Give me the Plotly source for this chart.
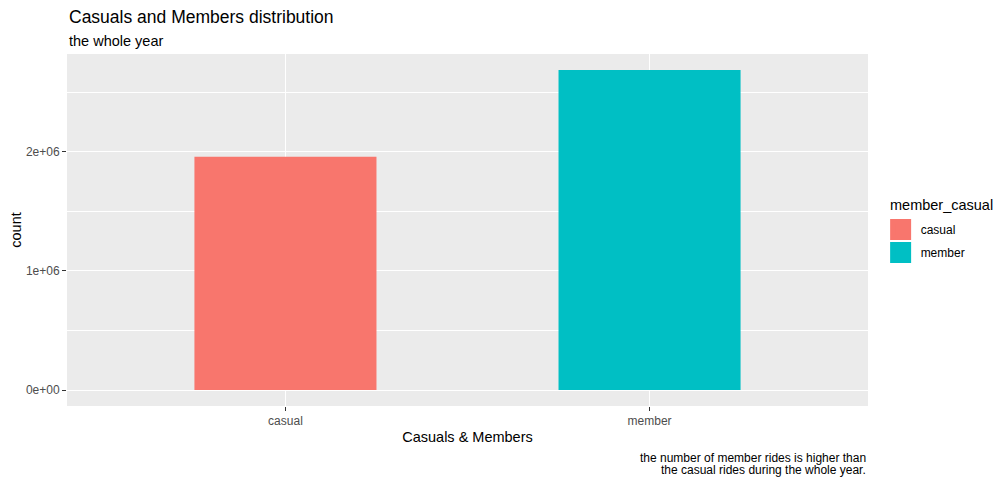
import plotly.graph_objects as go

# data
categories = ["casual", "member"]
ride_counts = [1958000, 2685000]
bar_colors = ["#F8766D", "#00BFC4"]
y_tickvals = [0, 1000000, 2000000]
y_ticktext = ["0e+00", "1e+06", "2e+06"]
caption_lines = ["the number of member rides is higher than",
                 "the casual rides during the whole year."]

FONT = "Liberation Sans, Arial, sans-serif"
PLOT_W = 801  # panel size in px
PLOT_H = 352

fig = go.Figure()
for cat, val, col in zip(categories, ride_counts, bar_colors):
    fig.add_trace(go.Bar(
        x=[cat], y=[val], name=cat, width=0.5, showlegend=False,
        marker=dict(color=col, line=dict(width=0)),
    ))
    # legend key, drawn as a square like ggplot's
    fig.add_trace(go.Scatter(
        x=[None], y=[None], name=cat, mode="markers", legendgroup=cat,
        marker=dict(symbol="square", size=16, color=col, line=dict(color=col, width=5)),
    ))

ymax = max(ride_counts)
# the page adds an 8px body margin, so the figure is a bit smaller than the window
fig.update_layout(
    width=999, height=476,
    barmode="overlay",
    paper_bgcolor="white",
    plot_bgcolor="#EBEBEB",
    margin=dict(l=59, r=139, t=46, b=78),
    font=dict(family=FONT, color="black"),
    showlegend=True,
    legend=dict(
        font=dict(size=12, color="black"),
        xref="container", yref="container",
        x=0.8735, xanchor="left", y=0.5105, yanchor="middle",
        tracegroupgap=4, itemsizing="trace",
    ),
    xaxis=dict(
        type="category",
        range=[-0.6, 1.6],
        automargin=False,
        showgrid=True, gridcolor="white", gridwidth=1.1,
        ticks="outside", ticklen=4, tickcolor="#333333", tickwidth=1,
        tickfont=dict(size=12, color="#4D4D4D"),
        title=dict(text="Casuals & Members", font=dict(size=14.5, color="black"), standoff=4),
        zeroline=False, showline=False,
    ),
    yaxis=dict(
        range=[-0.05 * ymax, 1.05 * ymax],
        automargin=False,
        tickvals=y_tickvals, ticktext=y_ticktext,
        showgrid=True, gridcolor="white", gridwidth=1.1,
        minor=dict(dtick=500000, tick0=0, showgrid=True, gridcolor="white", gridwidth=0.6, ticks=""),
        ticks="outside", ticklen=4, tickcolor="#333333", tickwidth=1,
        tickfont=dict(size=12, color="#4D4D4D"),
        title=dict(text="count", font=dict(size=14.5, color="black"), standoff=6),
        zeroline=False, showline=False,
    ),
)

fig.add_annotation(text="Casuals and Members distribution", xref="paper", yref="paper",
                   x=0, y=1 + (54 - 17) / PLOT_H, xanchor="left", yanchor="middle",
                   showarrow=False, font=dict(size=17.5, color="black"))
fig.add_annotation(text="the whole year", xref="paper", yref="paper",
                   x=0, y=1 + (54 - 41) / PLOT_H, xanchor="left", yanchor="middle",
                   showarrow=False, font=dict(size=14.5, color="black"))
# legend title as a free annotation so the legend box is not squeezed at the edge
fig.add_annotation(text="member_casual", xref="paper", yref="paper",
                   x=1 + (889 - 868) / PLOT_W, y=(406 - 205) / PLOT_H,
                   xanchor="left", yanchor="middle", xshift=-1,
                   showarrow=False, font=dict(size=14.5, color="black"))
for i, line in enumerate(caption_lines):
    fig.add_annotation(text=line, xref="paper", yref="paper",
                       x=1, y=-(458 + 12 * i - 406) / PLOT_H, xanchor="right", yanchor="middle",
                       showarrow=False, font=dict(size=12, color="black"))

fig.write_html("out.html")
